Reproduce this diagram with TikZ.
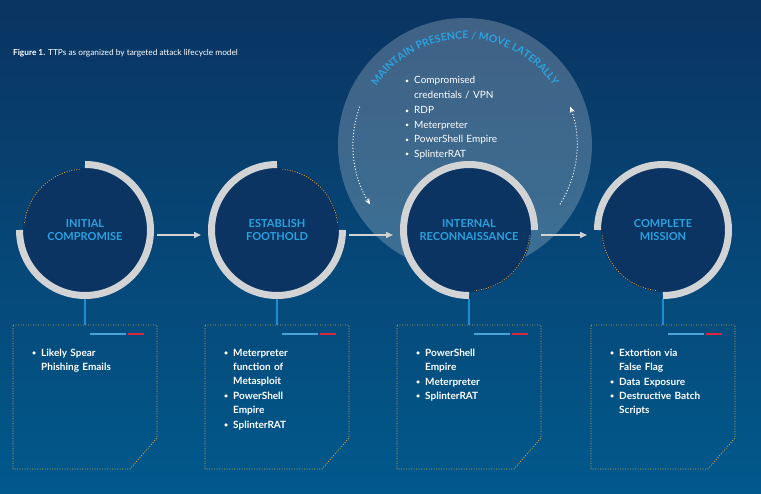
\documentclass[tikz,border=0pt]{standalone}
\usepackage{fontspec}
\setmainfont{Lato}
\usetikzlibrary{calc,decorations.text,arrows.meta}
\definecolor{bgtop}{HTML}{0A3461}
\definecolor{bgbot}{HTML}{02598C}
\definecolor{cfill}{HTML}{0B3462}
\definecolor{ringc}{HTML}{D1D3D5}
\definecolor{lblue}{HTML}{2AA2E0}
\definecolor{orng}{HTML}{D9A13A}
\definecolor{vline}{HTML}{1A8FD0}
\definecolor{barb}{HTML}{4BA3DA}
\definecolor{barr}{HTML}{D9283A}
\newcommand{\bl}[1]{\par\noindent\hbox to 9pt{\raisebox{0.5pt}{\fontsize{7}{7}\selectfont\textbullet}\hfil}\begin{tabular}[t]{@{}l@{}}#1\end{tabular}}
\tikzset{
  x=1pt,y=1pt,
  stage/.style={circle,fill=cfill,minimum size=124pt,inner sep=0pt,
     font=\fontsize{11}{13}\selectfont\bfseries,text=lblue,align=center},
  ring/.style={draw=ringc,line width=7pt},
  odot/.style={draw=orng,line width=0.9pt,dash pattern=on 0.9pt off 1.6pt},
  flow/.style={draw=ringc,line width=1.5pt,-{Triangle[length=7pt,width=6pt]}},
  conn/.style={draw=vline,line width=1.5pt},
  box/.style={odot},
  btxt/.style={text=white,font=\fontsize{10}{14}\selectfont\bfseries,
     text width=115pt,align=left,inner sep=0pt,anchor=north west},
  wdot/.style={draw=white,line width=1pt,dash pattern=on 1pt off 2pt},
}
\begin{document}
\begin{tikzpicture}
\useasboundingbox (0,0) rectangle (761,-494);
\shade[top color=bgtop,bottom color=bgbot] (0,0) rectangle (761,-494);
\node[anchor=west,text=white,font=\fontsize{8.3}{10}\selectfont,inner sep=0pt] (title) at (13,-53) {\textbf{Figure 1.} TTPs as organized by targeted attack lifecycle model};
% big circle
\coordinate (bc) at (465,-145);
\fill[white,opacity=0.22] (bc) circle (127);
\path[decorate,decoration={text along path,text align=center,
  text={|\fontsize{10.5}{11}\selectfont\bfseries\color{lblue}|MAINTAIN PRESENCE / MOVE LATERALLY}}]
  ($(bc)+(160:106)$) arc[start angle=160,end angle=20,radius=106];
\node[text=white,font=\fontsize{10}{14.5}\selectfont,text width=130pt,align=left,inner sep=0pt,anchor=north west] (mp) at (405,-69)
 {\bl{Compromised\\credentials / VPN}\bl{RDP}\bl{Meterpreter}\bl{PowerShell Empire}\bl{SplinterRAT}};
\draw[wdot,-{Stealth[length=6pt,width=5pt]}] ($(bc)+(160:112)$) arc[start angle=160,end angle=212,radius=112];
\draw[wdot,-{Stealth[length=6pt,width=5pt]}] ($(bc)+(-32:112)$) arc[start angle=-32,end angle=20,radius=112];
% stages
\node[stage] (c1) at (85,-230) {INITIAL\\COMPROMISE};
\node[stage] (c2) at (277,-230) {ESTABLISH\\FOOTHOLD};
\node[stage] (c3) at (469,-230) {INTERNAL\\RECONNAISSANCE};
\node[stage] (c4) at (663,-230) {COMPLETE\\MISSION};
\draw[ring] ($(c1)+(180:65.5)$) arc[start angle=180,end angle=450,radius=65.5];
\draw[odot] ($(c1)+(95:61)$) arc[start angle=95,end angle=175,radius=61];
\draw[ring] ($(c2)+(90:65.5)$) arc[start angle=90,end angle=360,radius=65.5];
\draw[odot] ($(c2)+(85:61)$) arc[start angle=85,end angle=5,radius=61];
\draw[ring] ($(c3)+(0:65.5)$) arc[start angle=0,end angle=270,radius=65.5];
\draw[odot] ($(c3)+(-5:61)$) arc[start angle=-5,end angle=-85,radius=61];
\draw[ring] ($(c4)+(270:65.5)$) arc[start angle=270,end angle=540,radius=65.5];
\draw[odot] ($(c4)+(185:61)$) arc[start angle=185,end angle=265,radius=61];
% flow arrows
\foreach \a/\b in {c1/c2,c2/c3,c3/c4}{
  \draw[flow] ($(\a.center)+(72,-5)$) -- ($(\b.center)+(-76,-5)$);
}
% boxes
\foreach \c/\n in {c1/b1,c2/b2,c3/b3,c4/b4}{
  \coordinate (\n) at ($(\c)+(-72,-95)$);
  \draw[conn] ($(\c)+(0,-69)$) -- ($(\c)+(0,-95)$);
  \draw[box] (\n) -- ++(144,0) -- ++(0,-113) -- ++(-27,-31) -- ++(-117,0) -- cycle;
  \draw[barb,line width=2.4pt] ($(\n)+(77,-9)$) -- ($(\n)+(113,-9)$);
  \draw[barr,line width=2.4pt] ($(\n)+(114.5,-9)$) -- ($(\n)+(131,-9)$);
}
\node[btxt] (t1) at ($(b1)+(19,-17)$) {\bl{Likely Spear\\Phishing Emails}};
\node[btxt] (t2) at ($(b2)+(19,-17)$) {\bl{Meterpreter\\function of\\Metasploit}\bl{PowerShell\\Empire}\bl{SplinterRAT}};
\node[btxt] (t3) at ($(b3)+(19,-17)$) {\bl{PowerShell\\Empire}\bl{Meterpreter}\bl{SplinterRAT}};
\node[btxt] (t4) at ($(b4)+(19,-17)$) {\bl{Extortion via\\False Flag}\bl{Data Exposure}\bl{Destructive Batch\\Scripts}};
\end{tikzpicture}
\end{document}
